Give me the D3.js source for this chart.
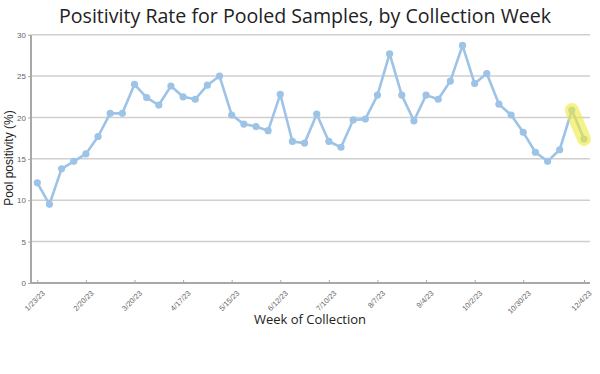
<!DOCTYPE html>
<html>
<head>
<meta charset="utf-8">
<script src="https://cdn.jsdelivr.net/npm/d3@7"></script>
<style>
  body { margin: 0; background: #fff; }
  svg { display: block; }
</style>
</head>
<body>
<div id="chart"></div>
<script>
(function(){

    // weekly pooled sample positivity, starting week of 1/23/23
    var startWeek = "1/23/23";
    var positivity = [12.1, 9.5, 13.8, 14.7, 15.6, 17.7, 20.5, 20.5, 24.0, 22.4,
                      21.5, 23.8, 22.5, 22.2, 23.9, 25.0, 20.3, 19.2, 18.9, 18.4,
                      22.8, 17.1, 16.9, 20.4, 17.1, 16.4, 19.7, 19.8, 22.7, 27.7,
                      22.7, 19.6, 22.7, 22.2, 24.4, 28.7, 24.1, 25.3, 21.6, 20.3,
                      18.2, 15.8, 14.7, 16.1, 20.9, 17.4];
    var xTickLabels = ["1/23/23", "2/20/23", "3/20/23", "4/17/23", "5/15/23", "6/12/23",
                       "7/10/23", "8/7/23", "9/4/23", "10/2/23", "10/30/23", "12/4/23"];
    var yTicks = [0, 5, 10, 15, 20, 25, 30];

    var W = 600, H = 374;
    var parse = d3.timeParse("%-m/%-d/%y");
    var fmt = d3.timeFormat("%-m/%-d/%y");
    var t0 = parse(startWeek);
    var data = positivity.map(function(v, i){
        return {date: d3.timeDay.offset(t0, i * 7), value: v};
    });

    var svg = d3.select("#chart").append("svg").attr("width", W).attr("height", H);

    var x = d3.scaleTime()
        .domain([data[0].date, data[data.length - 1].date])
        .range([37.3, 584]);
    var y = d3.scaleLinear().domain([0, 30]).range([283, 34.7]);

    // grid
    svg.append("g").selectAll("line")
        .data(yTicks.filter(function(d){ return d > 0; }))
        .enter().append("line")
        .attr("x1", 32).attr("x2", 590)
        .attr("y1", function(d){ return y(d); })
        .attr("y2", function(d){ return y(d); })
        .attr("stroke", "#cfcfcf").attr("stroke-width", 1.5);

    // y axis
    var yAxis = svg.append("g").attr("transform", "translate(31,0)")
        .call(d3.axisLeft(y).tickValues(yTicks).tickSize(3).tickPadding(2));
    yAxis.select(".domain").attr("stroke", "#a8a8a8").attr("stroke-width", 2)
        .attr("d", "M0," + y(30) + "V" + (y(0) + 1));
    yAxis.selectAll(".tick line").attr("stroke", "#a8a8a8");
    yAxis.selectAll("text").attr("fill", "#666")
        .style("font-family", "'Liberation Sans', Arial, sans-serif").style("font-size", "8px");

    // x axis
    var xAxis = svg.append("g").attr("transform", "translate(0,283)")
        .call(d3.axisBottom(x).tickValues(xTickLabels.map(parse)).tickFormat(fmt)
            .tickSizeInner(-3).tickSizeOuter(0).tickPadding(4));
    xAxis.select(".domain").attr("stroke", "#a8a8a8").attr("stroke-width", 2)
        .attr("d", "M31,0H590");
    xAxis.selectAll(".tick line").attr("stroke", "#a8a8a8");
    xAxis.selectAll("text").attr("fill", "#666")
        .style("font-family", "'Liberation Sans', Arial, sans-serif").style("font-size", "7.5px")
        .attr("text-anchor", "end")
        .attr("dy", "0.35em")
        .attr("transform", "translate(3,6) rotate(-45)");

    // line and points
    var line = d3.line()
        .x(function(d){ return x(d.date); })
        .y(function(d){ return y(d.value); });

    svg.append("path").datum(data)
        .attr("d", line)
        .attr("fill", "none")
        .attr("stroke", "#9dc3e6")
        .attr("stroke-width", 2.6)
        .attr("stroke-linejoin", "round");

    svg.append("g").selectAll("circle")
        .data(data)
        .enter().append("circle")
        .attr("cx", function(d){ return x(d.date); })
        .attr("cy", function(d){ return y(d.value); })
        .attr("r", 3.6)
        .attr("fill", "#9dc3e6");

    // highlight on last two weeks
    svg.append("path").datum(data.slice(-2))
        .attr("d", line)
        .attr("fill", "none")
        .attr("stroke", "rgba(240,234,60,0.6)")
        .attr("stroke-width", 14)
        .attr("stroke-linecap", "round");

    // titles
    svg.append("text")
        .attr("x", 305).attr("y", 23)
        .attr("text-anchor", "middle")
        .style("font-family", "'Open Sans', sans-serif").style("font-size", "19.6px")
        .attr("fill", "#222")
        .text("Positivity Rate for Pooled Samples, by Collection Week");

    svg.append("text")
        .attr("transform", "translate(13,158) rotate(-90)")
        .attr("text-anchor", "middle")
        .style("font-family", "'Liberation Sans', Arial, sans-serif").style("font-size", "12px")
        .attr("fill", "#222")
        .text("Pool positivity (%)");

    svg.append("text")
        .attr("x", 310).attr("y", 324)
        .attr("text-anchor", "middle")
        .style("font-family", "'Open Sans', sans-serif").style("font-size", "13px")
        .attr("fill", "#222")
        .text("Week of Collection");

})();
</script>
</body>
</html>
